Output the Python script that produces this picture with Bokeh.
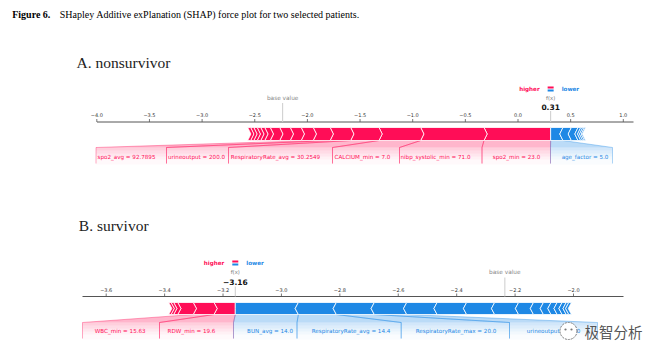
from bokeh.plotting import figure
from bokeh.models import Range1d
from bokeh.core.properties import value
from bokeh.embed import file_html
from bokeh.resources import INLINE

# ---------------- data ----------------
base_value = -2.235

# A. nonsurvivor  (SHAP values ordered from f(x) outward)
A_red_shap = [0.633, 0.601, 0.396, 0.269, 0.195, 0.161, 0.114, 0.104, 0.100, 0.090,
              0.052, 0.038, 0.034, 0.032, 0.030, 0.028]
A_red_labels = ["spo2_min = 23.0", "nibp_systolic_min = 71.0", "CALCIUM_min = 7.0",
                "RespiratoryRate_avg = 30.2549", "urineoutput = 200.0", "spo2_avg = 92.7895"]
A_blue_shap = [0.117, 0.080, 0.063, 0.026, 0.019, 0.016, 0.011]
A_blue_labels = ["age_factor = 5.0"]
A_ticks = [-4.0, -3.5, -3.0, -2.5, -2.0, -1.5, -1.0, -0.5, 0.0, 0.5, 1.0]

# B. survivor
B_red_shap = [0.073, 0.071, 0.053, 0.014, 0.009, 0.008]
B_red_labels = ["RDW_min = 19.6", "WBC_min = 15.63"]
B_blue_shap = [0.216, 0.130, 0.130, 0.111, 0.104, 0.101, 0.096, 0.082, 0.051, 0.034,
               0.026, 0.021, 0.017, 0.014, 0.009, 0.009]
B_blue_labels = ["BUN_avg = 14.0", "RespiratoryRate_avg = 14.4",
                 "RespiratoryRate_max = 20.0", "urineoutput = 15.0"]
B_ticks = [-3.6, -3.4, -3.2, -3.0, -2.8, -2.6, -2.4, -2.2, -2.0]

caption_bold = "Figure 6."
caption_text = "SHapley Additive exPlanation (SHAP) force plot for two selected patients."
title_A = "A. nonsurvivor"
title_B = "B. survivor"
watermark = "极智分析"

# ---------------- layout (page pixels) ----------------
RED = "#ff0d57"
BLUE = "#1e88e5"
SANS = value("DejaVu Sans")
SERIF = value("Liberation Serif")

LA = dict(ref_v=0.0, ref_px=517.5, ppu=105.3, axis_px=(96.5, 633), axis_y=121.5, tick_y=114.5,
          bar=(127, 140), box=(147, 164), label_y=156, hl_y=88.5, fx_y=97.5, val_y=106.5,
          fx_line=(110.5, 121.5), base_line=(102.5, 121.5),
          red_boxes=[(481.5, 550), (399, 481.5), (332, 399), (228, 332), (166, 228), (95.5, 166)],
          red_text=[516, 435, 362, 275, 196, 126],
          blue_boxes=[(550, 612)], blue_text=[584.5])
LB = dict(ref_v=-3.6, ref_px=105.7, ppu=292.06, axis_px=(82, 623), axis_y=296, tick_y=289.5,
          bar=(302, 314), box=(322, 339), label_y=330.5, hl_y=262.5, fx_y=271.5, val_y=281,
          fx_line=(286, 296), base_line=(277, 296),
          red_boxes=[(159, 233), (82, 159)], red_text=[191, 119.7],
          blue_boxes=[(233, 296.5), (296.5, 400.7), (400.7, 509), (509, 597)],
          blue_text=[269.5, 350.5, 455.5, 553])

W, H = 652, 343
X0, X1, Y0, Y1 = 0, 652, 0, 343


def to_v(L, px):
    return L["ref_v"] + (px - L["ref_px"]) / L["ppu"]


p = figure(width=W, height=H,
           x_range=Range1d(to_v(LA, X0), to_v(LA, X1)), y_range=Range1d(Y1, Y0),
           output_backend="svg", toolbar_location=None,
           x_axis_location=None, y_axis_location=None, min_border=0,
           outline_line_color=None, background_fill_color="white", border_fill_color="white")
p.extra_x_ranges = {"b": Range1d(to_v(LB, X0), to_v(LB, X1)), "px": Range1d(X0, X1)}
p.grid.visible = False


def fmt(t):
    return f"{t:.1f}".replace("-", "\u2212")


def draw_panel(L, red, blue, red_labels, blue_labels, ticks, rng):
    kw = {"x_range_name": rng} if rng else {}
    ppu = L["ppu"]
    v = lambda px: to_v(L, px)
    d = lambda dpx: dpx / ppu
    fx = base_value + sum(red) - sum(blue)
    top, bot = L["bar"]
    mid = (top + bot) / 2.0
    h = d(3.2)

    red_edges = [fx]
    for s in red:
        red_edges.append(red_edges[-1] - s)
    blue_edges = [fx]
    for s in blue:
        blue_edges.append(blue_edges[-1] + s)

    # ---- label backings (gradient approximated by bands) ----
    bt, bb = L["box"]
    levels = [bot, bt, bt + 3, bt + 6, bt + 9, bt + 12, bb]
    alphas = [0.30, 0.20, 0.15, 0.10, 0.06, 0.025]

    def edge(seg, box, y):
        if y <= bt:
            t = (y - bot) / (bt - bot)
            return seg + (box - seg) * t
        return box

    bxs, bys, bal, bcol = [], [], [], []
    lxs, lys, lcol = [], [], []
    items = []
    for i in range(len(red_labels)):
        b = L["red_boxes"][i]
        items.append((red_edges[i + 1], red_edges[i], v(b[0]), v(b[1]), RED))
    for j in range(len(blue_labels)):
        b = L["blue_boxes"][j]
        items.append((blue_edges[j], blue_edges[j + 1], v(b[0]), v(b[1]), BLUE))
    for sl, sr, bl, br, col in items:
        for k in range(len(levels) - 1):
            y0, y1 = levels[k], levels[k + 1]
            bxs.append([edge(sl, bl, y0), edge(sr, br, y0), edge(sr, br, y1), edge(sl, bl, y1)])
            bys.append([y0, y0, y1, y1])
            bal.append(alphas[k])
            bcol.append(col)
        lxs += [[sl, bl, bl], [sr, br, br]]
        lys += [[bot, bt, bb - 1], [bot, bt, bb - 1]]
        lcol += [col, col]
    p.patches(bxs, bys, fill_color=bcol, fill_alpha=bal, line_color=None, **kw)
    p.multi_line(lxs, lys, line_color=lcol, line_alpha=0.45, line_width=0.8, **kw)

    # ---- force bars ----
    xs, ys = [], []
    for i in range(len(red)):
        r, l = red_edges[i], red_edges[i + 1]
        tip = 0 if i == 0 else h
        xs.append([l, r, r + tip, r, l, l + h])
        ys.append([top, top, mid, bot, bot, mid])
    p.patches(xs, ys, fill_color=RED, line_color="white", line_width=0.8, **kw)
    xs, ys = [], []
    for j in range(len(blue)):
        l, r = blue_edges[j], blue_edges[j + 1]
        tip = 0 if j == 0 else h
        xs.append([l, r, r - h, r, l, l - tip])
        ys.append([top, top, mid, bot, bot, mid])
    p.patches(xs, ys, fill_color=BLUE, line_color="white", line_width=0.8, **kw)

    # ---- label texts ----
    p.text([v(t) for t in L["red_text"]], [L["label_y"]] * len(red_labels), red_labels,
           text_align="center", text_baseline="middle", text_font=SANS,
           text_font_size="5.6px", text_color=RED, **kw)
    p.text([v(t) for t in L["blue_text"]], [L["label_y"]] * len(blue_labels), blue_labels,
           text_align="center", text_baseline="middle", text_font=SANS,
           text_font_size="5.6px", text_color=BLUE, **kw)

    # ---- axis ----
    ay = L["axis_y"]
    p.segment(x0=[v(L["axis_px"][0])], y0=[ay], x1=[v(L["axis_px"][1])], y1=[ay],
              line_color="#555555", line_width=1, **kw)
    p.segment(x0=ticks, y0=[ay - 3] * len(ticks), x1=ticks, y1=[ay] * len(ticks),
              line_color="#555555", line_width=0.8, **kw)
    p.text(ticks, [L["tick_y"]] * len(ticks), [fmt(t) for t in ticks],
           text_align="center", text_baseline="middle", text_font=SANS,
           text_font_size="5px", text_color="#333333", **kw)

    # ---- base value & f(x) markers ----
    p.segment(x0=[base_value, fx], y0=[L["base_line"][0], L["fx_line"][0]],
              x1=[base_value, fx], y1=[L["base_line"][1], L["fx_line"][1]],
              line_color="#cccccc", line_width=1, **kw)
    p.text([base_value], [L["fx_y"]], ["base value"], text_align="center",
           text_baseline="middle", text_font=SANS, text_font_size="5.8px",
           text_color="#888888", **kw)
    p.text([fx], [L["fx_y"]], ["f(x)"], text_align="center", text_baseline="middle",
           text_font=SANS, text_font_size="5.3px", text_color="#777777", **kw)
    p.text([fx], [L["val_y"]], [f"{fx:.2f}".replace("-", "\u2212")], text_align="center",
           text_baseline="middle", text_font=SANS, text_font_size="7.5px",
           text_font_style="bold", text_color="#111111", **kw)
    hy = L["hl_y"]
    p.text([fx - d(11)], [hy], ["higher"], text_align="right", text_baseline="middle",
           text_font=SANS, text_font_size="5.6px", text_font_style="bold", text_color=RED, **kw)
    p.text([fx + d(11)], [hy], ["lower"], text_align="left", text_baseline="middle",
           text_font=SANS, text_font_size="5.6px", text_font_style="bold", text_color=BLUE, **kw)
    p.quad(left=[fx - d(3)] * 2, right=[fx + d(3)] * 2,
           top=[hy - 2.4, hy + 0.5], bottom=[hy - 0.5, hy + 2.4],
           fill_color=[RED, BLUE], line_color=None, **kw)


draw_panel(LA, A_red_shap, A_blue_shap, A_red_labels, A_blue_labels, A_ticks, None)
draw_panel(LB, B_red_shap, B_blue_shap, B_red_labels, B_blue_labels, B_ticks, "b")

# ---------------- page texts ----------------
p.text([11.7], [14], [caption_bold], text_align="left", text_baseline="middle",
       text_font=SERIF, text_font_size="10px", text_font_style="bold",
       text_color="#000000", x_range_name="px")
p.text([59.3], [14], [caption_text], text_align="left", text_baseline="middle",
       text_font=SERIF, text_font_size="10px", text_color="#000000", x_range_name="px")
p.text([76], [61.5], [title_A], text_align="left", text_baseline="middle",
       text_font=SERIF, text_font_size="15.5px", text_color="#222222", x_range_name="px")
p.text([78.3], [225], [title_B], text_align="left", text_baseline="middle",
       text_font=SERIF, text_font_size="15.5px", text_color="#222222", x_range_name="px")

# watermark
p.scatter([568], [330.5], size=17, marker="circle", fill_color="white",
          line_color="#777777", line_dash="2 1", line_width=1, x_range_name="px")
p.scatter([565, 571], [329, 329], size=2.2, marker="circle", fill_color="#777777",
          line_color=None, x_range_name="px")
p.text([584], [330.5], [watermark], text_align="left", text_baseline="middle",
       text_font=value("Noto Sans CJK SC"), text_font_size="14.5px",
       text_color="#555555", x_range_name="px")

open("out.html", "w").write(file_html(p, INLINE))
